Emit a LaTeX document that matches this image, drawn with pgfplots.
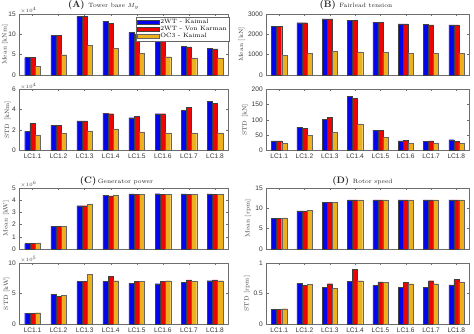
\documentclass[border=0pt]{standalone}
\usepackage{fontspec}
\setsansfont{Liberation Sans}
\usepackage{pgfplots}
\pgfplotsset{compat=1.18}
\usepackage{pgfplotstable}
\definecolor{cb}{RGB}{5,5,235}
\definecolor{cr}{RGB}{235,5,5}
\definecolor{co}{RGB}{237,177,32}
\definecolor{axc}{RGB}{110,110,110}

\pgfplotstableread{
x b r o
1 4.3 4.3 2.2
2 9.7 9.7 5.0
3 14.5 14.5 7.3
4 13.2 12.7 6.5
5 10.5 10.1 5.4
6 8.4 8.3 4.5
7 7.0 6.9 4.2
8 6.6 6.4 4.2
}\Amean
\pgfplotstableread{
x b r o
1 1.85 2.65 1.5
2 2.45 2.45 1.65
3 2.9 2.9 1.9
4 3.65 3.6 2.1
5 3.2 3.35 1.8
6 3.6 3.6 1.7
7 3.95 4.2 1.7
8 4.8 4.6 1.7
}\Astd
\pgfplotstableread{
x b r o
1 2380 2380 980
2 2570 2570 1080
3 2760 2760 1180
4 2700 2680 1140
5 2600 2590 1100
6 2510 2510 1070
7 2480 2470 1070
8 2460 2460 1080
}\Bmean
\pgfplotstableread{
x b r o
1 30 30 22
2 76 72 48
3 101 108 58
4 178 170 86
5 66 65 42
6 30 31 23
7 29 30 23
8 34 29 23
}\Bstd
\pgfplotstableread{
x b r o
1 0.45 0.45 0.50
2 1.85 1.85 1.88
3 3.55 3.55 3.70
4 4.42 4.35 4.43
5 4.52 4.48 4.48
6 4.53 4.48 4.48
7 4.52 4.47 4.48
8 4.52 4.48 4.50
}\Cmean
\pgfplotstableread{
x b r o
1 1.80 1.75 1.85
2 4.85 4.50 4.65
3 6.95 6.95 8.10
4 6.95 7.85 7.10
5 6.65 6.95 6.95
6 6.60 7.00 7.10
7 6.85 7.25 7.00
8 7.10 7.25 7.10
}\Cstd
\pgfplotstableread{
x b r o
1 7.6 7.6 7.65
2 9.4 9.4 9.45
3 11.4 11.4 11.45
4 12.1 12.1 12.1
5 12.1 12.1 12.1
6 12.1 12.1 12.1
7 12.1 12.1 12.1
8 12.1 12.1 12.1
}\Dmean
\pgfplotstableread{
x b r o
1 0.24 0.24 0.25
2 0.67 0.63 0.65
3 0.60 0.66 0.59
4 0.70 0.90 0.71
5 0.63 0.69 0.68
6 0.60 0.68 0.66
7 0.60 0.71 0.66
8 0.64 0.73 0.68
}\Dstd

\pgfplotsset{
  mybase/.style={
    scale only axis, height=61bp,
    xmin=0.5, xmax=8.5, ymin=0,
    xtick={1,2,3,4,5,6,7,8}, xticklabels={},
    tick align=inside, major tick length=2bp,
    axis line style={axc, line width=0.4bp},
    tick style={axc, line width=0.4bp},
    ticklabel style={font=\sffamily\fontsize{6.6}{7.5}\selectfont, text=black!80},
    /pgf/number format/assume math mode=true,
    /pgf/number format/1000 sep={},
    yticklabel style={xshift=-0.3bp},
    xticklabel style={yshift=-0.3bp},
    clip=false,
    legend image code/.code={\draw[##1] (0bp,-2.1bp) rectangle (22bp,2.1bp);},
  },
  leftp/.style={mybase, width=208.5bp},
  rightp/.style={mybase, width=202.5bp},
  labs/.style={xticklabels={LC1.1,LC1.2,LC1.3,LC1.4,LC1.5,LC1.6,LC1.7,LC1.8}},
  bb/.style={ybar, bar width=0.2, bar shift=-0.2, fill=cb, draw=black!75, line width=0.3bp, forget plot},
  br/.style={ybar, bar width=0.2, bar shift=0, fill=cr, draw=black!75, line width=0.3bp, forget plot},
  bo/.style={ybar, bar width=0.2, bar shift=0.2, fill=co, draw=black!60, line width=0.3bp, forget plot},
}
\newcommand{\ylab}[2]{\node[rotate=90, font=\fontsize{6.2}{7}\selectfont, text=black!75, inner sep=0pt] at ([xshift=#1]rel axis cs:0,0.5) {#2};}
\newcommand{\sclab}[1]{\node[anchor=south west, font=\fontsize{5.5}{6}\selectfont, text=black!75, inner sep=0.3bp] at ([xshift=0.5bp]rel axis cs:0,1) {$\times10^{#1}$};}
\newcommand{\bars}[1]{%
  \addplot[bb] table[x=x,y=b]{#1};
  \addplot[br] table[x=x,y=r]{#1};
  \addplot[bo] table[x=x,y=o]{#1};}

\begin{document}
\begin{tikzpicture}
\useasboundingbox (0,0) rectangle (474bp,334bp);
% (A) mean
\begin{axis}[leftp, at={(19.5bp,259bp)}, anchor=south west, ymax=15, ytick={0,5,10,15},
  legend style={at={(rel axis cs:1.005,0.955)}, anchor=north east, font=\fontsize{6.2}{7}\selectfont,
    draw=black!60, fill=white, inner sep=1bp, row sep=-0.6bp, nodes={inner sep=1bp}},
  legend cell align=left]
\bars{\Amean}
\addlegendimage{fill=cb, draw=black!75}
\addlegendentry{2WT - Kaimal}
\addlegendimage{fill=cr, draw=black!75}
\addlegendentry{2WT - Von Karman}
\addlegendimage{fill=co, draw=black!60}
\addlegendentry{OC3 - Kaimal}
\ylab{-14.5bp}{Mean [kNm]}
\sclab{4}
\end{axis}
% (A) std
\begin{axis}[leftp, labs, at={(19.5bp,184bp)}, anchor=south west, height=60.5bp, ymax=6, ytick={0,2,4,6}]
\bars{\Astd}
\ylab{-12bp}{STD [kNm]}
\sclab{4}
\end{axis}
% (B) mean
\begin{axis}[rightp, at={(266.5bp,259bp)}, anchor=south west, ymax=3000, ytick={0,1000,2000,3000}]
\bars{\Bmean}
\ylab{-25bp}{Mean [kN]}
\end{axis}
% (B) std
\begin{axis}[rightp, labs, at={(266.5bp,184bp)}, anchor=south west, height=60.5bp, ymax=200, ytick={0,50,100,150,200}]
\bars{\Bstd}
\ylab{-21.5bp}{STD [kN]}
\end{axis}
% (C) mean
\begin{axis}[leftp, at={(19.5bp,85bp)}, anchor=south west, ymax=5, ytick={0,1,2,3,4,5}]
\bars{\Cmean}
\ylab{-13.5bp}{Mean [kW]}
\sclab{6}
\end{axis}
% (C) std
\begin{axis}[leftp, labs, at={(19.5bp,10bp)}, anchor=south west, ymax=10, ytick={0,5,10}]
\bars{\Cstd}
\ylab{-13bp}{STD [kW]}
\sclab{5}
\end{axis}
% (D) mean
\begin{axis}[rightp, at={(266.5bp,85bp)}, anchor=south west, ymax=15, ytick={0,5,10,15}]
\bars{\Dmean}
\ylab{-18.5bp}{Mean [rpm]}
\end{axis}
% (D) std
\begin{axis}[rightp, labs, at={(266.5bp,10bp)}, anchor=south west, ymax=1, ytick={0,0.5,1}]
\bars{\Dstd}
\ylab{-19.5bp}{STD [rpm]}
\end{axis}
% titles
\node[text=black!85, inner sep=0pt] at (103.5bp,328.5bp) {\fontsize{9.5}{10}\selectfont\bfseries (A)\ \fontsize{6.2}{7}\selectfont\mdseries Tower base $M_y$};
\node[text=black!85, inner sep=0pt] at (356bp,328.5bp) {\fontsize{9.5}{10}\selectfont\bfseries (B)\ \fontsize{6.2}{7}\selectfont\mdseries Fairlead tension};
\node[text=black!85, inner sep=0pt] at (116.5bp,153bp) {\fontsize{9.5}{10}\selectfont\bfseries (C)\,\fontsize{6.2}{7}\selectfont\mdseries Generator power};
\node[text=black!85, inner sep=0pt] at (362.5bp,153bp) {\fontsize{9.5}{10}\selectfont\bfseries (D)\ \fontsize{6.2}{7}\selectfont\mdseries Rotor speed};
\end{tikzpicture}
\end{document}
